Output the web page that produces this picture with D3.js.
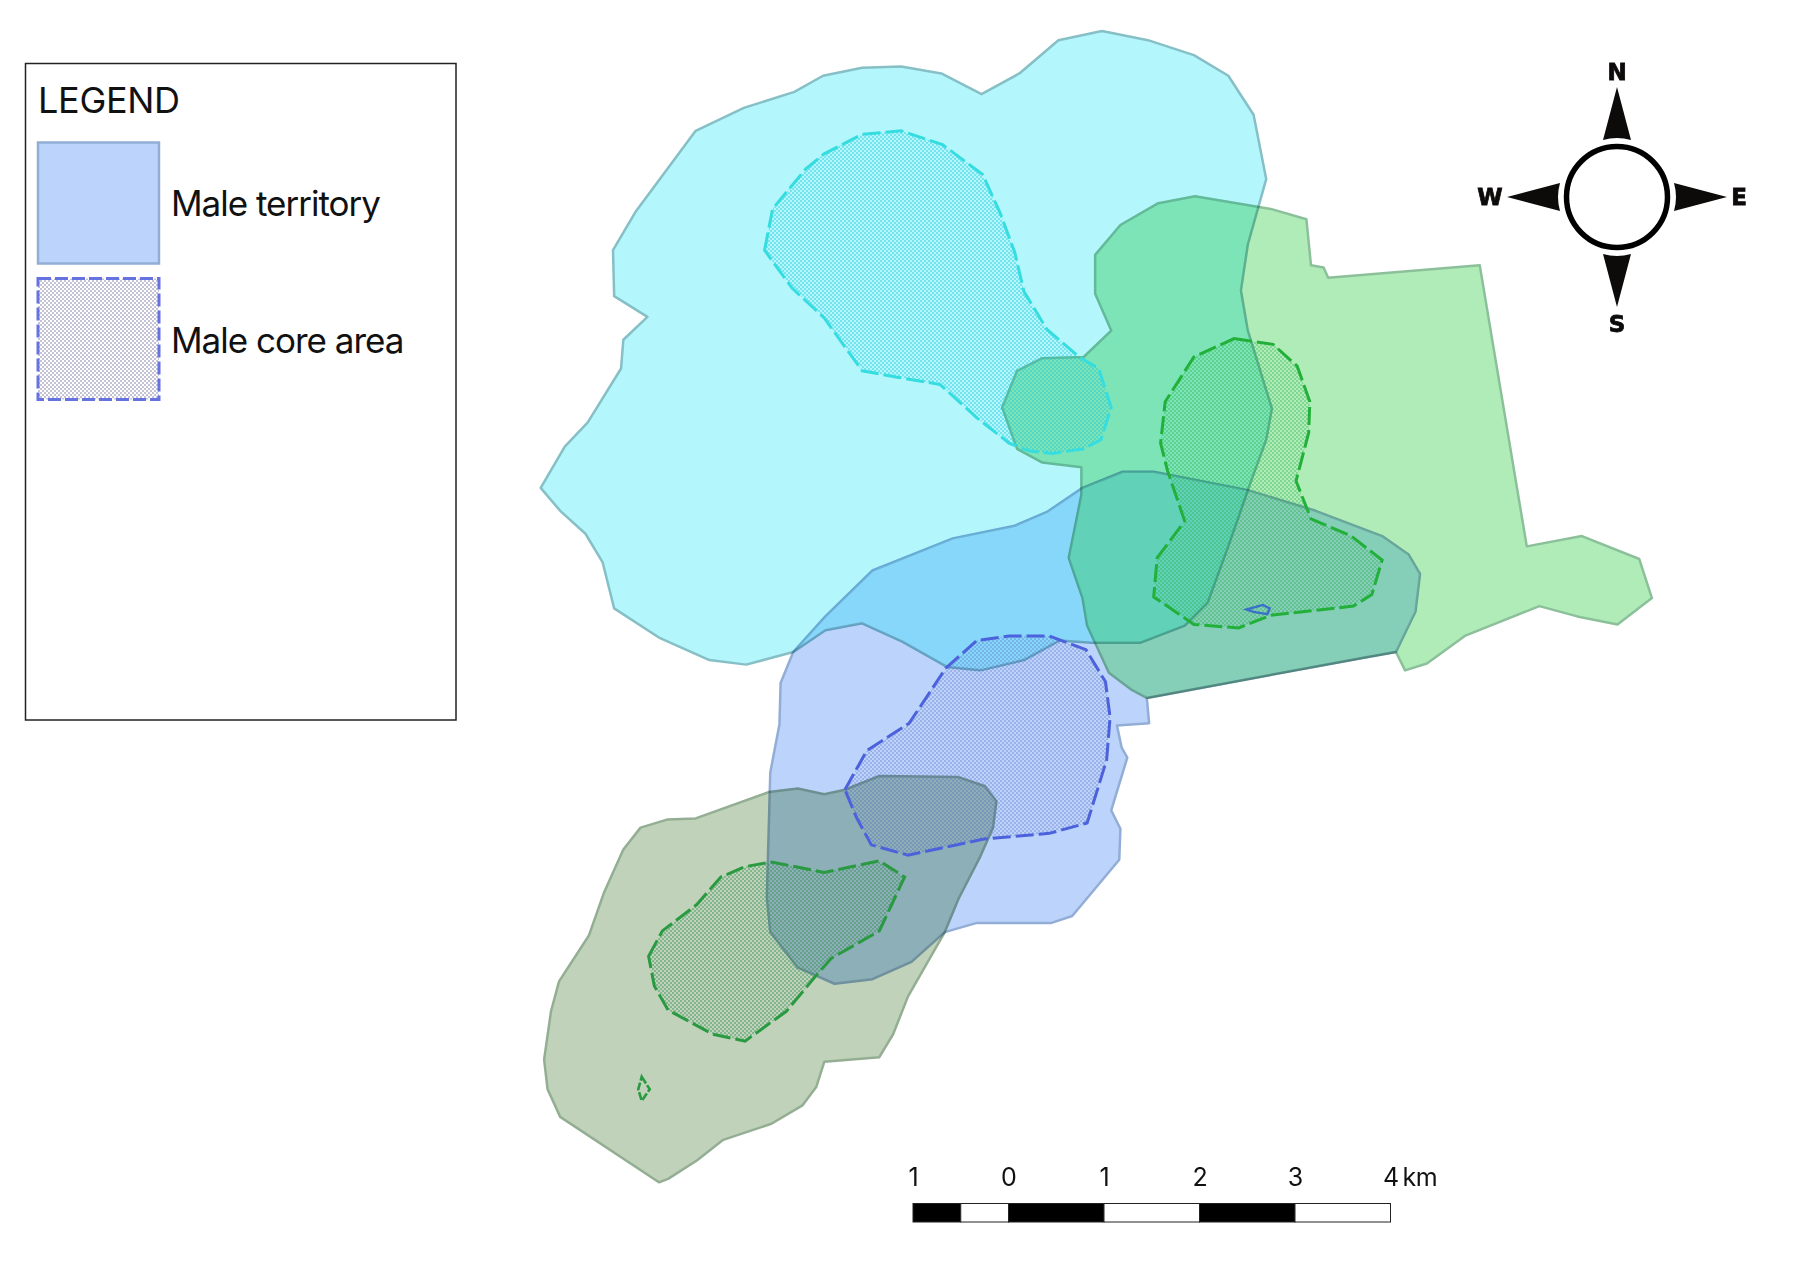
<!DOCTYPE html>
<html>
<head>
<meta charset="utf-8">
<title>Male territories and core areas</title>
<style>
  html, body { margin: 0; padding: 0; background: #fff; }
  svg { display: block; background: #fff; }
  text { font-family: Inter, "Noto Sans", sans-serif; fill: #111; }
</style>
</head>
<body>
<script src="https://cdn.jsdelivr.net/npm/d3@7"></script>
<script>
// outlines, in map units
var cyanTerritory = [[471,425],[492,389],[512,368],[541,321],[543,296],[564,276],[535,258],[534,218],[554,184],[606,114],[648,94],[692,80],[717,66],[751,59],[785,58],[820,64],[855,82],[888,64],[922,35],[960,27],[1000,35],[1040,48],[1070,66],[1092,100],[1103,156],[1087,213],[1081,253],[1087,288],[1108,356],[1103,383],[1087,427],[1071,473],[1052,525],[1032,545],[993,560],[951,560],[923,558],[892,575],[854,584],[825,581],[786,559],[751,543],[719,549],[691,568],[650,579],[618,575],[575,556],[535,530],[525,490],[510,465],[488,445]];
var cyanCore = [[666,218],[673,182],[702,147],[718,134],[751,117],[785,114],[821,126],[856,152],[871,185],[884,220],[892,254],[912,287],[940,311],[957,321],[968,355],[959,383],[944,391],[917,395],[897,393],[879,386],[851,364],[819,335],[784,329],[751,323],[718,277],[690,251]];

var greenTerritory = [[873,355],[886,323],[908,312],[944,311],[968,288],[954,256],[954,222],[976,196],[1009,177],[1041,171],[1107,182],[1138,191],[1142,231],[1153,233],[1157,242],[1289,231],[1330,476],[1378,467],[1428,487],[1439,521],[1409,544],[1374,537],[1341,528],[1276,554],[1243,578],[1224,584],[1216,568],[1188,573],[999,608],[986,601],[966,586],[947,545],[943,521],[931,486],[942,431],[942,407],[908,403],[886,391]];
var greenCore = [[1075,295],[1109,300],[1130,319],[1141,350],[1140,377],[1129,419],[1142,452],[1177,467],[1204,488],[1195,518],[1179,528],[1107,536],[1079,547],[1040,544],[1005,520],[1008,486],[1032,454],[1017,410],[1011,386],[1015,350],[1040,311]];

var blueTerritory = [[691,568],[719,537],[760,497],[830,469],[884,458],[912,446],[943,425],[978,411],[1005,411],[1087,427],[1146,445],[1204,467],[1227,483],[1237,500],[1233,533],[1216,568],[1188,573],[999,608],[1001,630],[973,632],[977,651],[982,660],[968,706],[976,722],[975,749],[934,798],[916,804],[851,804],[823,812],[794,838],[760,853],[727,857],[695,843],[671,812],[668,782],[671,673],[679,631],[680,595]];
var blueCore = [[736,688],[755,654],[792,630],[824,582],[851,558],[879,554],[914,554],[946,566],[963,594],[967,625],[964,662],[947,717],[914,726],[857,731],[791,745],[759,736],[746,712]];
var blueCoreSpot = [[1086,531],[1100,527],[1106,530],[1104,535],[1092,533]];

var oliveTerritory = [[558,721],[581,714],[606,713],[670,690],[695,687],[718,692],[736,688],[766,676],[835,677],[858,685],[868,698],[865,721],[854,746],[835,783],[823,812],[791,868],[778,901],[766,921],[718,925],[711,947],[699,963],[672,979],[630,993],[607,1011],[582,1027],[574,1030],[488,973],[477,949],[474,923],[480,881],[487,855],[513,815],[526,778],[543,740]];
var oliveCore = [[565,833],[577,811],[607,788],[628,764],[649,755],[672,751],[718,760],[766,750],[788,764],[766,811],[724,835],[710,851],[685,881],[649,907],[621,901],[582,880],[570,859]];
var oliveCoreSpot = [[559,938],[566,949],[559,959],[556,949]];

var legendLabels = ["Male territory", "Male core area"];
var scaleSegments = [-1, -0.5, 0, 1, 2, 3, 4];
var scaleTicks = [-1, 0, 1, 2, 3, 4];
var compassPoints = ["N", "E", "S", "W"];

var width = 1800, height = 1273;

// map units to pixels
var x = d3.scaleLinear().domain([0, 1568]).range([0, width]);
var y = d3.scaleLinear().domain([0, 1109]).range([0, height]);
// scale bar, km to pixels
var km = d3.scaleLinear().domain([0, 4]).range([1008.5, 1390.5]);

var line = d3.line()
  .x(function(d) { return x(d[0]); })
  .y(function(d) { return y(d[1]); })
  .curve(d3.curveLinearClosed);

var svg = d3.select("body").append("svg")
  .attr("width", width)
  .attr("height", height);

// fine dot screen used for the core areas, one colour per animal
var defs = svg.append("defs");
function dots(id, color, opacity) {
  var p = defs.append("pattern")
    .attr("id", id)
    .attr("patternUnits", "userSpaceOnUse")
    .attr("width", 4)
    .attr("height", 4);
  p.append("rect").attr("width", 2).attr("height", 2).attr("fill", color).attr("fill-opacity", opacity);
  p.append("rect").attr("x", 2).attr("y", 2).attr("width", 2).attr("height", 2).attr("fill", color).attr("fill-opacity", opacity);
}
dots("dotsCyan", "#1cc8d8", 0.42);
dots("dotsGreen", "#22b048", 0.34);
dots("dotsBlue", "#4a5ab8", 0.28);
dots("dotsOlive", "#2f9050", 0.42);
dots("dotsLegend", "#5a5a8a", 0.36);

defs.append("clipPath").attr("id", "inBlue")
  .append("path").attr("d", line(blueTerritory));

// territories multiply where they overlap
function territory(points, fill, stroke) {
  svg.append("path")
    .attr("d", line(points))
    .attr("fill", fill)
    .attr("stroke", stroke)
    .attr("stroke-width", 2.5)
    .attr("stroke-linejoin", "round")
    .style("mix-blend-mode", "multiply");
}

// multiply comes out a bit too dark over the blue territory, lift those overlaps
function lift(points) {
  svg.append("path")
    .attr("d", line(points))
    .attr("clip-path", "url(#inBlue)")
    .attr("fill", "rgb(3,10,2)")
    .style("mix-blend-mode", "plus-lighter");
}

function core(points, pattern, stroke) {
  svg.append("path")
    .attr("d", line(points))
    .attr("fill", "url(#" + pattern + ")")
    .attr("stroke", stroke)
    .attr("stroke-width", 3)
    .attr("stroke-dasharray", "18,5");
}

territory(cyanTerritory, "#b3f7fd", "#86bfc6");
territory(blueTerritory, "#bcd4fb", "#93aed6");
territory(greenTerritory, "#b0ecb8", "#8cc09a");
territory(oliveTerritory, "#c0d3ba", "#94ae94");
lift(cyanTerritory);
lift(greenTerritory);

core(cyanCore, "dotsCyan", "#35dde0");
core(greenCore, "dotsGreen", "#22b03a");
core(blueCore, "dotsBlue", "#4c62dc");
core(oliveCore, "dotsOlive", "#2a9a42");
svg.append("path")
  .attr("d", line(oliveCoreSpot))
  .attr("fill", "none")
  .attr("stroke", "#2a9a42")
  .attr("stroke-width", 2.6)
  .attr("stroke-dasharray", "8,2");
svg.append("path")
  .attr("d", line(blueCoreSpot))
  .attr("fill", "none")
  .attr("stroke", "#3a70c8")
  .attr("stroke-width", 2.4);

// legend
var legend = svg.append("g").attr("id", "legend");
legend.append("rect")
  .attr("x", 25.5).attr("y", 63.5)
  .attr("width", 430.5).attr("height", 656.5)
  .attr("fill", "#fff")
  .attr("stroke", "#222")
  .attr("stroke-width", 1.5);
legend.append("text")
  .attr("x", 38).attr("y", 113)
  .attr("font-size", 36)
  .style("letter-spacing", "-0.3px")
  .text("LEGEND");
legend.append("rect")
  .attr("x", 38).attr("y", 142.5).attr("width", 121).attr("height", 121)
  .attr("fill", "#bcd4fb")
  .attr("stroke", "#93aed6")
  .attr("stroke-width", 2.5);
legend.append("rect")
  .attr("x", 38).attr("y", 278.5).attr("width", 121).attr("height", 121)
  .attr("fill", "url(#dotsLegend)")
  .attr("stroke", "#6672e0")
  .attr("stroke-width", 3)
  .attr("stroke-dasharray", "13,4");
legend.selectAll(".label")
  .data(legendLabels)
  .enter().append("text")
  .attr("class", "label")
  .attr("x", 171)
  .attr("y", function(d, i) { return 216 + i * 137; })
  .attr("font-size", 35)
  .style("letter-spacing", "-1px")
  .text(function(d) { return d; });

// compass
var compass = svg.append("g").attr("id", "compass").attr("transform", "translate(1617,197)");
compass.append("circle").attr("r", 50.5).attr("fill", "#fff").attr("stroke", "#000").attr("stroke-width", 5.5);
compass.selectAll(".arrow")
  .data(compassPoints)
  .enter().append("path")
  .attr("class", "arrow")
  .attr("d", "M0,-110L14,-57Q0,-61 -14,-57Z")
  .attr("fill", "#0d0a0a")
  .attr("transform", function(d, i) { return "rotate(" + i * 90 + ")"; });
compass.selectAll(".point")
  .data(compassPoints)
  .enter().append("text")
  .attr("class", "point")
  .attr("x", function(d, i) { return [0, 122, 0, -127][i]; })
  .attr("y", function(d, i) { return [-117, 8, 135, 8][i]; })
  .attr("text-anchor", "middle")
  .attr("font-size", 23)
  .attr("font-weight", 900)
  .style("font-family", "'DejaVu Sans'")
  .style("stroke", "#0d0a0a")
  .style("stroke-width", 0.8)
  .style("fill", "#0d0a0a")
  .text(function(d) { return d; });

// scale bar
var bar = svg.append("g").attr("id", "scalebar");
bar.selectAll("rect")
  .data(d3.pairs(scaleSegments))
  .enter().append("rect")
  .attr("x", function(d) { return km(d[0]); })
  .attr("y", 1203.5)
  .attr("width", function(d) { return km(d[1]) - km(d[0]); })
  .attr("height", 18.5)
  .attr("fill", function(d, i) { return i % 2 ? "#fff" : "#000"; })
  .attr("stroke", "#222")
  .attr("stroke-width", 1);

var axis = d3.axisTop(km)
  .tickValues(scaleTicks)
  .tickFormat(function(d) { return Math.abs(d); })
  .tickSize(0)
  .tickPadding(0);
var axisG = bar.append("g")
  .attr("transform", "translate(0,1186)")
  .call(axis);
axisG.select(".domain").remove();
axisG.selectAll("text")
  .attr("dy", 0)
  .attr("y", 0)
  .attr("font-size", 25)
  .style("font-family", "Inter")
  .style("fill", "#111");
bar.append("text")
  .attr("x", km(4) + 12)
  .attr("y", 1186)
  .attr("font-size", 25)
  .style("letter-spacing", "-0.5px")
  .text("km");
</script>
</body>
</html>
